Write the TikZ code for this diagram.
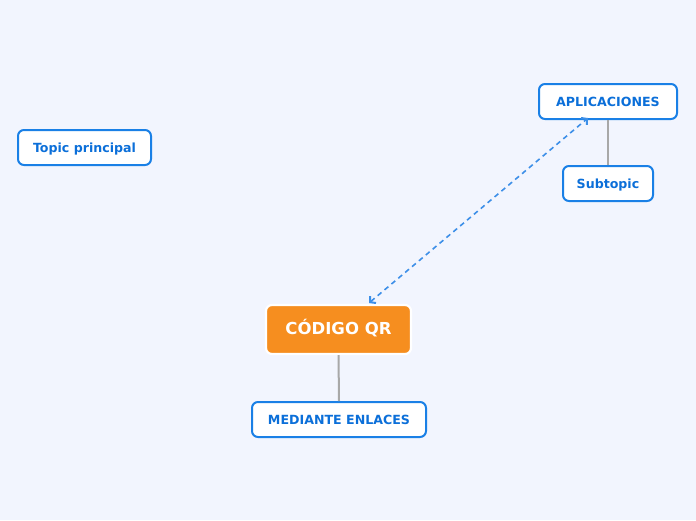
\documentclass[tikz,border=0pt]{standalone}
\usepackage{fontspec}
\setmainfont{DejaVu Sans}
\usetikzlibrary{arrows.meta}
\definecolor{bgc}{HTML}{F2F5FE}
\definecolor{bluec}{HTML}{0B6FD9}
\definecolor{borderc}{HTML}{1A80E6}
\definecolor{orangec}{HTML}{F68E1F}
\definecolor{linec}{HTML}{A8A8A8}
\definecolor{dashc}{HTML}{3D8FE8}
\tikzset{
  topicbox/.style={draw=borderc, line width=2pt, fill=white, rounded corners=6pt,
    text=bluec, font=\bfseries\fontsize{12.6}{14}\selectfont, inner sep=0pt,
    text height=0.95em, text depth=0pt, anchor=center},
  mainbox/.style={draw=white, line width=2.2pt, fill=orangec, rounded corners=6pt,
    text=white, font=\bfseries\fontsize{16.5}{18}\selectfont, inner sep=0pt,
    text height=0.95em, text depth=0pt,
    minimum width=145pt, minimum height=49pt},
  greyline/.style={draw=linec, line width=2pt},
  dashlink/.style={draw=dashc, line width=1.6pt, dash pattern=on 5pt off 4pt,
    {Straight Barb[length=4pt,width=9pt,line width=2pt]}-{Straight Barb[length=4pt,width=9pt,line width=2pt]}}
}
\begin{document}
\begin{tikzpicture}[x=1pt,y=-1pt]
\fill[bgc] (0,0) rectangle (696,520);
\useasboundingbox (0,0) rectangle (696,520);
\node[topicbox, minimum width=133pt, minimum height=35pt] (topic) at (84.5,147.5) {Topic principal};
\node[topicbox, minimum width=138pt, minimum height=35pt] (apl) at (608,101.5) {APLICACIONES};
\node[topicbox, minimum width=90pt, minimum height=35pt] (sub) at (608,183.5) {Subtopic};
\node[mainbox] (main) at (338.5,329.5) {CÓDIGO QR};
\node[topicbox, minimum width=174pt, minimum height=35pt] (med) at (339,419.5) {MEDIANTE ENLACES};
\draw[greyline] (main.south) -- (med.north);
\draw[greyline] (apl.south) -- (sub.north);
\coordinate (dA) at (369,303);
\coordinate (dB) at (588,118);
\draw[dashlink] (dA) -- (dB);
\end{tikzpicture}
\end{document}
